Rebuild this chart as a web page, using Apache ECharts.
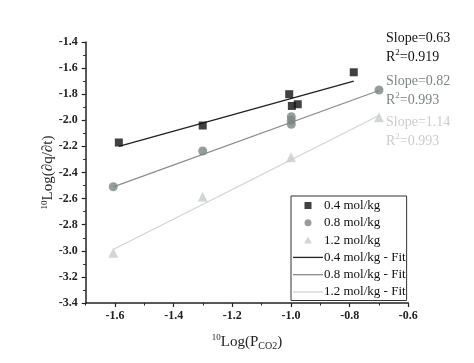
<!DOCTYPE html>
<html><head><meta charset="utf-8">
<script src="https://cdn.jsdelivr.net/npm/echarts@6/dist/echarts.min.js"></script>
<style>html,body{margin:0;padding:0;background:#fff}#c{width:474px;height:363px}</style>
</head><body><div id="c"></div>
<script>
// Data
var s04 = [[-1.587,-2.17],[-1.301,-2.04],[-1.006,-1.80],[-0.997,-1.89],[-0.977,-1.877],[-0.786,-1.632]];
var s08 = [[-1.606,-2.509],[-1.301,-2.235],[-0.999,-1.972],[-0.999,-2.00],[-0.999,-2.03],[-0.70,-1.768]];
var s12 = [[-1.606,-3.015],[-1.301,-2.585],[-1.0,-2.284],[-0.70,-1.977]];
var fit04 = [[-1.587,-2.20],[-0.786,-1.70]];
var fit08 = [[-1.606,-2.51],[-0.70,-1.772]];
var fit12 = [[-1.606,-2.99],[-0.70,-1.963]];
var seriesNames = ['0.4 mol/kg','0.8 mol/kg','1.2 mol/kg','0.4 mol/kg - Fit','0.8 mol/kg - Fit','1.2 mol/kg - Fit'];
var annotations = [
  ['Slope=0.63','0.919'],
  ['Slope=0.82','0.993'],
  ['Slope=1.14','0.993']
];
var xRange = [-1.7, -0.6];
var xMajorTicks = [-1.6,-1.4,-1.2,-1.0,-0.8,-0.6];
var xMinorTicks = [-1.7,-1.5,-1.3,-1.1,-0.9,-0.7];
var yTicks = {min:-3.4,max:-1.4,interval:0.2};

var C_BLACK = '#111111', C_GRAY = '#7b8682', C_LIGHT = '#c7ccca';
var L_BLACK = '#222222', L_GRAY = '#858d8b', L_LIGHT = '#cfd3d1';
var serif = '"Liberation Serif", "DejaVu Serif", serif';

var chart = echarts.init(document.getElementById('c'));
var annColors = [C_BLACK, C_GRAY, '#c8cdcb'];
var annTops = [29, 72, 113];
var graphics = [];
annotations.forEach(function(a, i){
  graphics.push({type:'text', left:386, top:annTops[i], style:{
    text:a[0]+'\n{r|R}{s|2}{r|='+a[1]+'}', fill:annColors[i], font:'14px '+serif, lineHeight:19,
    rich:{r:{fontSize:14, fontFamily:serif, fill:annColors[i]}, s:{fontSize:9, fontFamily:serif, verticalAlign:'top', fill:annColors[i], padding:[0,0,6,0]}}
  }});
});

var lineIcon = 'path://M0,0L30,0L30,1.3L0,1.3Z';
var axisLab = {fontFamily:serif, fontWeight:'bold', fontSize:12, color:'#222'};
chart.setOption({
  animation:false,
  backgroundColor:'#fff',
  grid:{left:85.7, right:65.7, top:42, bottom:60, containLabel:false},
  xAxis:[{type:'value', min:xRange[0], max:xRange[1],
    axisLine:{show:true, onZero:false, lineStyle:{color:'#222', width:1.5}},
    axisTick:{show:true, inside:false, length:4, customValues:xMajorTicks, lineStyle:{color:'#222', width:1.2}},
    splitLine:{show:false},
    axisLabel:Object.assign({margin:7, customValues:xMajorTicks, formatter:function(v){return v.toFixed(1);}}, axisLab),
    name:'{s|10}{n|Log(P}{b|CO2}{n|)}', nameLocation:'middle', nameGap:30, nameMoveOverlap:false,
    nameTextStyle:{rich:{n:{fontFamily:serif, fontSize:15, color:'#222'}, s:{fontFamily:serif, fontSize:9, color:'#222', verticalAlign:'top', padding:[0,0,8,0]}, b:{fontFamily:serif, fontSize:10, color:'#222', padding:[8,0,0,0]}}}
  },{type:'value', min:xRange[0], max:xRange[1], position:'bottom',
    axisLine:{show:false, onZero:false},
    axisTick:{show:true, inside:false, length:2.5, customValues:xMinorTicks, lineStyle:{color:'#222', width:1}},
    axisLabel:{show:false}, splitLine:{show:false}
  }],
  yAxis:{type:'value', min:yTicks.min, max:yTicks.max, interval:yTicks.interval,
    axisLine:{show:true, onZero:false, lineStyle:{color:'#222', width:1.5}},
    axisTick:{show:true, inside:false, length:4, lineStyle:{color:'#222', width:1.2}},
    minorTick:{show:true, splitNumber:2, length:2.5, lineStyle:{color:'#222', width:1}},
    splitLine:{show:false},
    axisLabel:Object.assign({margin:8, formatter:function(v){return v.toFixed(1);}}, axisLab),
    name:'{s|10}{n|Log(∂q/∂t)}', nameLocation:'middle', nameGap:29, nameRotate:90, nameMoveOverlap:false,
    nameTextStyle:{rich:{n:{fontFamily:serif, fontSize:15, color:'#222'}, s:{fontFamily:serif, fontSize:9, color:'#222', verticalAlign:'top', padding:[0,0,8,0]}}}
  },
  legend:{orient:'vertical', left:291, top:196, width:118,
    backgroundColor:'#fff', borderColor:'#333', borderWidth:1, borderRadius:0,
    padding:[3,1,2,2], itemGap:4.3, itemWidth:30, itemHeight:7, symbolKeepAspect:true,
    textStyle:{fontFamily:serif, fontSize:13, lineHeight:13, color:'#111', padding:[0,0,0,-4]},
    data:[
      {name:seriesNames[0], icon:'path://M0,0L1,0L1,1L0,1Z', itemStyle:{color:C_BLACK}},
      {name:seriesNames[1], icon:'circle'},
      {name:seriesNames[2], icon:'path://M0.5,0L1,0.9L0,0.9Z'},
      {name:seriesNames[3], icon:lineIcon, itemStyle:{color:L_BLACK}},
      {name:seriesNames[4], icon:lineIcon, itemStyle:{color:L_GRAY}},
      {name:seriesNames[5], icon:lineIcon, itemStyle:{color:L_LIGHT}}
    ]
  },
  graphic:graphics,
  series:[
    {name:seriesNames[0], type:'scatter', data:s04, symbol:'rect', symbolSize:8, itemStyle:{color:C_BLACK}, z:5},
    {name:seriesNames[1], type:'scatter', data:s08, symbol:'circle', symbolSize:9, itemStyle:{color:C_GRAY}, z:5},
    {name:seriesNames[2], type:'scatter', data:s12, symbol:'triangle', symbolSize:10, itemStyle:{color:C_LIGHT}, z:5},
    {name:seriesNames[3], type:'line', data:fit04, symbol:'none', lineStyle:{color:L_BLACK, width:1.5}, itemStyle:{color:L_BLACK}, z:3},
    {name:seriesNames[4], type:'line', data:fit08, symbol:'none', lineStyle:{color:L_GRAY, width:1.2}, itemStyle:{color:L_GRAY}, z:3},
    {name:seriesNames[5], type:'line', data:fit12, symbol:'none', lineStyle:{color:L_LIGHT, width:1.2}, itemStyle:{color:L_LIGHT}, z:3}
  ]
});
</script></body></html>
